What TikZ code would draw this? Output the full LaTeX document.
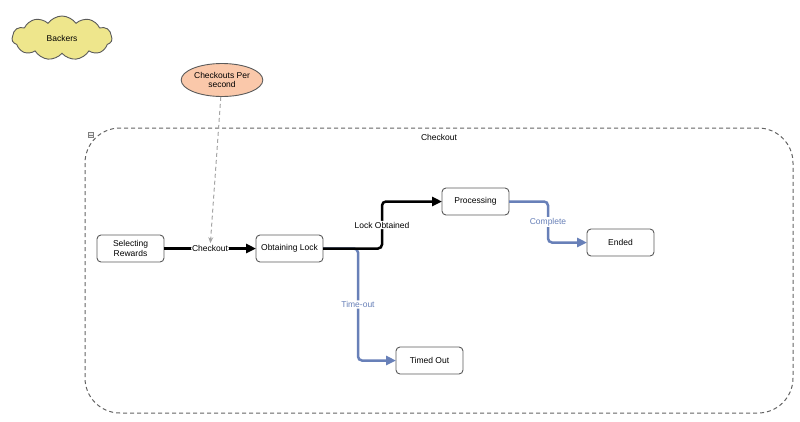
\documentclass[tikz,border=0pt]{standalone}
\usepackage{fontspec}
\setmainfont{Liberation Sans}
\usetikzlibrary{positioning}
\usetikzlibrary{shapes.symbols}
\usetikzlibrary{shapes.geometric}
\usetikzlibrary{arrows.meta}

\definecolor{flowblue}{RGB}{104,128,184}
\definecolor{cloudfill}{RGB}{238,230,140}
\definecolor{ratefill}{RGB}{250,200,170}
\definecolor{boxgray}{RGB}{90,90,90}
\definecolor{dashgray}{RGB}{100,100,100}
\definecolor{linkgray}{RGB}{165,165,165}

\begin{document}
\begin{tikzpicture}[x=1pt, y=-1pt, font=\fontsize{8.5}{9.5}\selectfont,
    statenode/.style={rectangle, rounded corners=4pt, draw=boxgray, fill=white, line width=0.9pt, minimum width=67pt, minimum height=27pt, inner sep=1pt, outer sep=0pt, align=center},
    blackflow/.style={line width=2.5pt, -{Triangle[length=10pt, width=9pt]}, rounded corners=4pt},
    blueflow/.style={draw=flowblue, line width=2.5pt, -{Triangle[length=10pt, width=9pt]}, rounded corners=4pt},
    flowlabel/.style={fill=white, inner sep=1pt}]
        \useasboundingbox (0,0) rectangle (800,421);

        \node[cloud, cloud puffs=11, cloud puff arc=110, aspect=2.2, draw=boxgray, fill=cloudfill, line width=0.9pt, minimum width=100pt, minimum height=44pt] (backers) at (62,38) {Backers};
        \node[ellipse, draw=boxgray, fill=ratefill, line width=0.9pt, minimum width=80pt, minimum height=33pt, inner sep=1pt, align=center] (rate) at (222,80) {Checkouts Per\\second};

        \node[draw=dashgray, dash pattern=on 4pt off 3pt, rounded corners=35pt, line width=1pt, minimum width=708pt, minimum height=285pt] (checkoutbox) at (439,270.5) {};
        \node[inner sep=1pt] (boxtitle) [below=6pt of checkoutbox.north] {Checkout};
        \node[draw=gray, fill=gray!15, minimum size=5pt, inner sep=0pt] (collapse) at (91,135) {};
        \draw[gray, shorten <=1pt, shorten >=1pt] (collapse.west) -- (collapse.east);

        \node[statenode] (select) at (130.5,248.5) {Selecting\\Rewards};
        \node[statenode] (obtain) [right=92pt of select] {Obtaining Lock};
        \node[statenode] (process) [above right=20pt and 119pt of obtain] {Processing};
        \node[statenode] (ended) [below right=14pt and 78pt of process] {Ended};
        \node[statenode] (timedout) [below right=85pt and 73pt of obtain] {Timed Out};

        \draw[blueflow] (obtain.east) -- ++(35pt,0) |- node[pos=0.25, flowlabel, text=flowblue] {Time-out} (timedout.west);
        \draw[blackflow] (select) -- node[flowlabel] (chk) {Checkout} (obtain);
        \draw[blackflow] (obtain.east) -- ++(59pt,0) |- node[pos=0.25, flowlabel] {Lock Obtained} (process.west);
        \draw[blueflow] (process.east) -- ++(39pt,0) |- node[pos=0.25, flowlabel, text=flowblue] {Complete} (ended.west);

        \draw[linkgray, dash pattern=on 4pt off 3pt, line width=1pt, -{Stealth[length=6pt, width=5pt]}] (rate) -- (chk); % rate feeds the checkout
    
    \end{tikzpicture}
\end{document}
